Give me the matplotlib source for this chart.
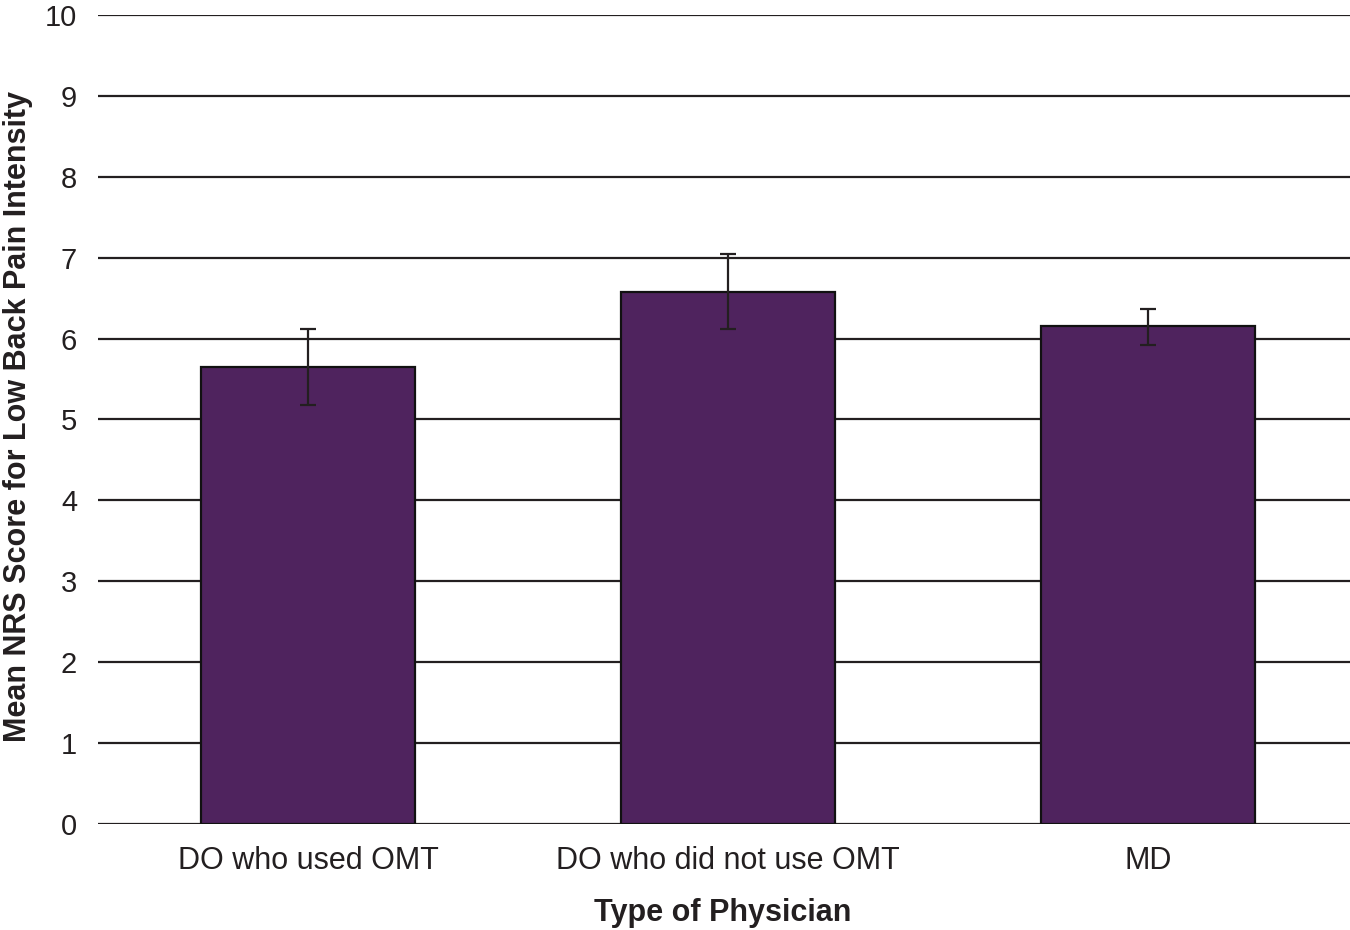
import matplotlib.pyplot as plt
import numpy as np

categories = ["DO who used OMT", "DO who did not use OMT", "MD"]
means = [5.65, 6.58, 6.16]
err_low = [0.47, 0.46, 0.24]
err_high = [0.47, 0.47, 0.21]

plt.rcParams['font.family'] = ['Liberation Sans', 'DejaVu Sans']

fig = plt.figure(figsize=(13.5, 9.3), dpi=100)
ax = fig.add_axes([98 / 1350, 1 - 824 / 930, 1260 / 1350, (824 - 15) / 930])

x = np.arange(len(categories))
ax.set_axisbelow(True)
ax.yaxis.grid(True, color='#231f20', linewidth=1.6)
ax.bar(x, means, width=0.51, color='#4f235e', edgecolor='#111111', linewidth=1.6,
       zorder=2)
ax.errorbar(x, means, yerr=[err_low, err_high], fmt='none', ecolor='#231f20',
            elinewidth=1.6, capsize=6, capthick=1.6, zorder=3)

ax.set_xlim(-0.5, 2.5)
ax.set_ylim(0, 10)
ax.set_yticks(range(0, 11))
ax.set_xticks(x)
ax.set_xticklabels(categories)
for s in ['top', 'right', 'left', 'bottom']:
    ax.spines[s].set_visible(False)
ax.tick_params(axis='both', length=0, colors='#231f20')
ax.tick_params(axis='y', pad=15, labelsize=21)
ax.tick_params(axis='x', pad=16, labelsize=22)

fig.text(723 / 1350, 1 - 913 / 930, "Type of Physician", fontsize=22,
         fontweight='bold', color='#231f20', ha='center', va='center')
fig.text(18 / 1350, 1 - 416 / 930, "Mean NRS Score for Low Back Pain Intensity",
         fontsize=22, fontweight='bold', color='#231f20', ha='center',
         va='center', rotation=90)

fig.savefig("out.png", dpi=100)
